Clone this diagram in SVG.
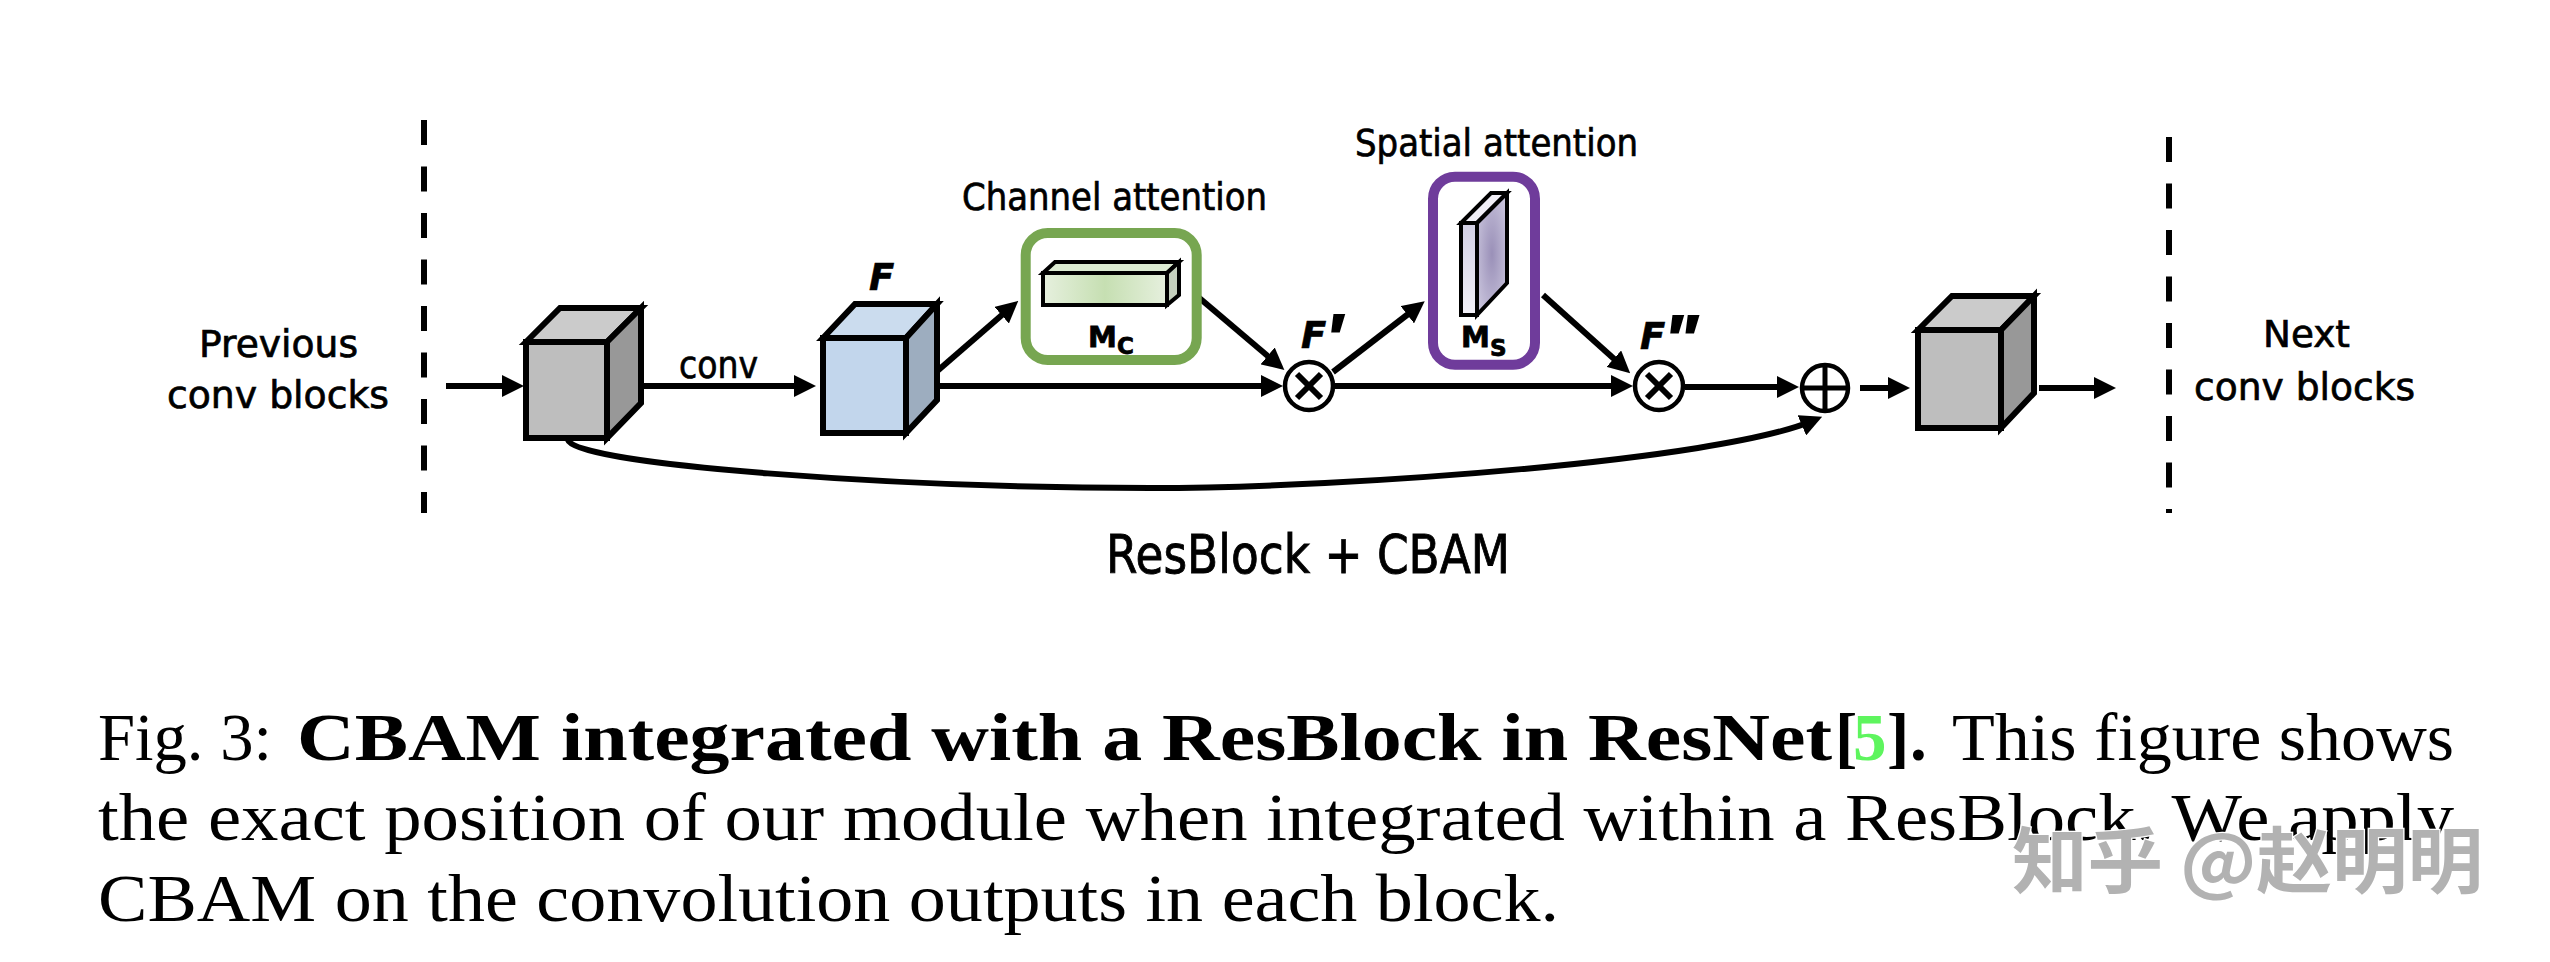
<svg xmlns="http://www.w3.org/2000/svg" width="2550" height="962" viewBox="0 0 2550 962">
<defs>
<style>
.lbl{font-family:"DejaVu Sans","Liberation Sans",sans-serif;font-size:37px;fill:#000;stroke:#000;stroke-width:0.7px}
.bi{font-family:"DejaVu Sans","Liberation Sans",sans-serif;font-weight:bold;font-style:italic;font-size:37px;fill:#000;stroke:#000;stroke-width:0.6px}
.pr{font-family:"Liberation Sans","DejaVu Sans",sans-serif;font-size:64px;stroke-width:2px}
.mb{font-family:"DejaVu Sans","Liberation Sans",sans-serif;font-weight:bold;fill:#000;stroke:#000;stroke-width:0.8px}
.cap{font-family:"Liberation Serif","Times New Roman",serif;font-size:67px;fill:#000}
.cub{stroke:#000;stroke-width:6;stroke-linejoin:miter}
.ln{fill:none;stroke:#000;stroke-width:6}
.dash{fill:none;stroke:#000;stroke-width:6;stroke-dasharray:25 21.5}
.op{fill:#fff;stroke:#000;stroke-width:4.5}
.opl{stroke:#000;stroke-width:6;stroke-linecap:butt}
.opp{stroke:#000;stroke-width:5;stroke-linecap:butt}
</style>
<marker id="ah" markerUnits="userSpaceOnUse" markerWidth="22" markerHeight="22" viewBox="0 0 20 20" refX="10" refY="10" orient="auto">
<path d="M0,0 L20,10 L0,20 Z" fill="#000"/>
</marker>
<linearGradient id="gMc" x1="0" y1="0" x2="1" y2="0">
<stop offset="0" stop-color="#e6f0de"/>
<stop offset="0.5" stop-color="#c6dfb2"/>
<stop offset="1" stop-color="#e6f0de"/>
</linearGradient>
<radialGradient id="gMs" cx="0.5" cy="0.5" r="0.6">
<stop offset="0" stop-color="#9a90b8"/>
<stop offset="1" stop-color="#c9c4dc"/>
</radialGradient>
<linearGradient id="gMsF" x1="0" y1="0" x2="0" y2="1">
<stop offset="0" stop-color="#d2cfe4"/>
<stop offset="1" stop-color="#f2f1f8"/>
</linearGradient>
</defs>
<rect width="2550" height="962" fill="#fff"/>

<g id="dividers">
<line class="dash" x1="424" y1="120" x2="424" y2="513"/>
<line class="dash" x1="2169" y1="137" x2="2169" y2="513"/>
</g>

<g id="prev-label">
<text class="lbl" x="199" y="357" textLength="159" lengthAdjust="spacingAndGlyphs">Previous</text>
<text class="lbl" x="167" y="408" textLength="222" lengthAdjust="spacingAndGlyphs">conv blocks</text>
</g>

<g id="next-label">
<text class="lbl" x="2263" y="347" textLength="87" lengthAdjust="spacingAndGlyphs">Next</text>
<text class="lbl" x="2194" y="400" textLength="221" lengthAdjust="spacingAndGlyphs">conv blocks</text>
</g>

<g id="connectors">
<line class="ln" x1="446" y1="386" x2="513" y2="386" marker-end="url(#ah)"/>
<line class="ln" x1="641" y1="386" x2="805" y2="386" marker-end="url(#ah)"/>
<text class="lbl" x="679" y="378" textLength="79" lengthAdjust="spacingAndGlyphs">conv</text>
<line class="ln" x1="937" y1="386" x2="1272" y2="386" marker-end="url(#ah)"/>
<line class="ln" x1="935" y1="373" x2="1010" y2="308" marker-end="url(#ah)"/>
<line class="ln" x1="1197" y1="296" x2="1276" y2="363" marker-end="url(#ah)"/>
<line class="ln" x1="1333" y1="372" x2="1416" y2="308" marker-end="url(#ah)"/>
<line class="ln" x1="1335" y1="386" x2="1622" y2="386" marker-end="url(#ah)"/>
<line class="ln" x1="1543" y1="295" x2="1622" y2="366" marker-end="url(#ah)"/>
<line class="ln" x1="1685" y1="387" x2="1788" y2="387" marker-end="url(#ah)"/>
<line class="ln" x1="1860" y1="388" x2="1899" y2="388" marker-end="url(#ah)"/>
<line class="ln" x1="2039" y1="388" x2="2105" y2="388" marker-end="url(#ah)"/>
<path class="ln" d="M568,440 C575,465 900,488 1150,488 C1350,488 1720,460 1812,421" marker-end="url(#ah)"/>
</g>

<g id="cube-in">
<polygon class="cub" points="526,342 560,308 641,308 607,342" fill="#cbcbcb"/>
<polygon class="cub" points="607,342 641,308 641,403 607,438" fill="#989898"/>
<rect class="cub" x="526" y="342" width="81" height="96" fill="#bebebe"/>
</g>

<g id="cube-F">
<polygon class="cub" points="823,338 855,304 937,304 906,338" fill="#cbdcee"/>
<polygon class="cub" points="906,338 937,304 937,400 906,433" fill="#9dadbf"/>
<rect class="cub" x="823" y="338" width="83" height="95" fill="#c2d6ec"/>
<text class="bi" x="869" y="290">F</text>
</g>

<g id="channel-attention">
<text class="lbl" x="962" y="210" textLength="305" lengthAdjust="spacingAndGlyphs">Channel attention</text>
<rect x="1025.7" y="233" width="171" height="127" rx="22" fill="#fff" stroke="#77a651" stroke-width="10"/>
<polygon points="1043,273 1055,262 1179,262 1167,273" fill="#dcebd2" stroke="#000" stroke-width="4" stroke-linejoin="miter"/>
<polygon points="1167,273 1179,262 1179,295 1167,305" fill="#c5d0be" stroke="#000" stroke-width="4" stroke-linejoin="miter"/>
<rect x="1043" y="273" width="124" height="32" fill="url(#gMc)" stroke="#000" stroke-width="4"/>
<text class="mb" x="1088" y="347" font-size="29">M<tspan x="1117" y="354" font-size="23">C</tspan></text>
</g>

<g id="mult-1">
<circle class="op" cx="1309" cy="386" r="24"/>
<line class="opl" x1="1297" y1="374" x2="1321" y2="398"/>
<line class="opl" x1="1321" y1="374" x2="1297" y2="398"/>
<text class="bi" x="1301" y="348">F<tspan class="pr" dy="12">′</tspan></text>
</g>

<g id="spatial-attention">
<text class="lbl" x="1355" y="156" textLength="283" lengthAdjust="spacingAndGlyphs">Spatial attention</text>
<rect x="1433" y="176.7" width="102" height="188" rx="22" fill="#fff" stroke="#6f3c9b" stroke-width="10"/>
<polygon points="1461,223 1491,193 1507,193 1477,223" fill="#f0eef6" stroke="#000" stroke-width="4" stroke-linejoin="miter"/>
<polygon points="1477,223 1507,193 1507,283 1477,315" fill="url(#gMs)" stroke="#000" stroke-width="4" stroke-linejoin="miter"/>
<rect x="1461" y="223" width="16" height="92" fill="url(#gMsF)" stroke="#000" stroke-width="4"/>
<text class="mb" x="1461" y="347" font-size="29">M<tspan x="1490" y="356" font-size="23">S</tspan></text>
</g>

<g id="mult-2">
<circle class="op" cx="1659" cy="386" r="24"/>
<line class="opl" x1="1647" y1="374" x2="1671" y2="398"/>
<line class="opl" x1="1671" y1="374" x2="1647" y2="398"/>
<text class="bi" x="1640" y="349">F<tspan class="pr" dy="12">″</tspan></text>
</g>

<g id="add">
<circle class="op" cx="1825" cy="388" r="23"/>
<line class="opp" x1="1825" y1="367" x2="1825" y2="409"/>
<line class="opp" x1="1804" y1="388" x2="1846" y2="388"/>
</g>

<g id="cube-out">
<polygon class="cub" points="1918,330 1952,296 2034,296 2001,330" fill="#cbcbcb"/>
<polygon class="cub" points="2001,330 2034,296 2034,393 2001,428" fill="#989898"/>
<rect class="cub" x="1918" y="330" width="83" height="98" fill="#bebebe"/>
</g>

<g id="title">
<text class="lbl" x="1106" y="573" textLength="404" lengthAdjust="spacingAndGlyphs" style="font-size:54px;stroke-width:0.9px">ResBlock + CBAM</text>
</g>

<g id="caption">
<text class="cap" x="98" y="760" textLength="174" lengthAdjust="spacingAndGlyphs">Fig. 3:</text>
<text class="cap" y="760" font-weight="bold"><tspan x="297" textLength="1535" lengthAdjust="spacingAndGlyphs">CBAM integrated with a ResBlock in ResNet</tspan><tspan x="1835">[</tspan><tspan x="1853" style="fill:#5ef55e">5</tspan><tspan x="1887">]</tspan><tspan x="1910">.</tspan></text>
<text class="cap" x="1952" y="760" textLength="502" lengthAdjust="spacingAndGlyphs">This figure shows</text>
<text class="cap" x="98" y="840" textLength="2356" lengthAdjust="spacingAndGlyphs">the exact position of our module when integrated within a ResBlock. We apply</text>
<text class="cap" x="98" y="921" textLength="1461" lengthAdjust="spacingAndGlyphs">CBAM on the convolution outputs in each block.</text>
</g>

<g id="watermark">
<text x="2012" y="887" font-family="'Noto Sans CJK SC','Noto Sans',sans-serif" font-size="72" font-weight="bold" fill="#b2b2b2" stroke="#ffffff" stroke-width="2.5" paint-order="stroke" textLength="471" lengthAdjust="spacingAndGlyphs">知乎 @赵明明</text>
</g>
</svg>
